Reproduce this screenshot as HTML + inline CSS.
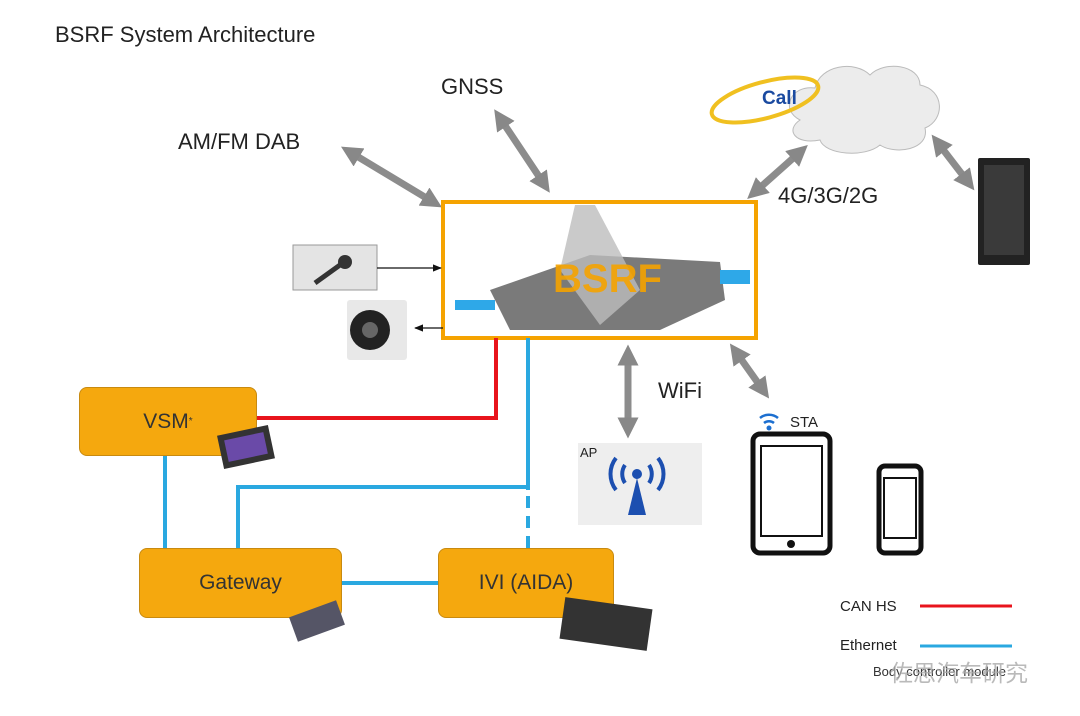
<!DOCTYPE html>
<html><head><meta charset="utf-8"><style>
body{margin:0;width:1080px;height:716px;background:#fff;position:relative;overflow:hidden;font-family:"Liberation Sans","Noto Sans CJK SC",sans-serif;color:#222}
.t{position:absolute;white-space:nowrap}
.box{position:absolute;background:#f5a80e;border:1px solid #c88a10;border-radius:8px;display:flex;align-items:center;justify-content:center;font-size:21px;color:#333}
</style></head><body>
<svg width="1080" height="716" style="position:absolute;left:0;top:0">
<defs>
<marker id="g" viewBox="0 0 10 10" refX="5" refY="5" markerWidth="3" markerHeight="3" orient="auto-start-reverse"><path d="M0,0L10,5L0,10z" fill="#888"/></marker>
<marker id="k" viewBox="0 0 10 10" refX="9" refY="5" markerWidth="7" markerHeight="7" orient="auto"><path d="M0,1L10,5L0,9z" fill="#111"/></marker>
</defs>
<g stroke="#8c8c8c" stroke-width="7" marker-start="url(#g)" marker-end="url(#g)">
<line x1="350" y1="152" x2="433" y2="202"/>
<line x1="500" y1="118" x2="544" y2="184"/>
<line x1="755" y1="192" x2="800" y2="152"/>
<line x1="938" y1="143" x2="968" y2="182"/>
<line x1="628" y1="355" x2="628" y2="428"/>
<line x1="736" y1="352" x2="763" y2="390"/>
</g>
<path d="M800,120 C780,110 790,85 815,88 C820,65 855,60 870,75 C885,60 920,65 920,85 C945,90 945,120 925,128 C930,150 895,155 880,145 C865,158 825,155 820,140 C795,145 785,130 800,120Z" fill="#ececec" stroke="#bbb"/>
<ellipse cx="765" cy="100" rx="55" ry="18" fill="none" stroke="#f0c020" stroke-width="4" transform="rotate(-15 765 100)"/>
<text x="762" y="104" font-family="Liberation Sans" font-weight="bold" font-size="19" fill="#1a4aa0">Call</text>
<rect x="978" y="158" width="52" height="107" fill="#222" rx="2"/>
<rect x="984" y="165" width="40" height="90" fill="#3a3a3a"/>
<rect x="443" y="202" width="313" height="136" fill="#fff" stroke="#f5a300" stroke-width="4"/>
<path d="M490,290 L590,255 L720,262 L725,300 L660,330 L510,330 Z" fill="#7a7a7a"/>
<path d="M560,270 L575,205 L595,205 L640,290 L600,325 Z" fill="#bdbdbd" opacity=".8"/>
<rect x="455" y="300" width="40" height="10" fill="#2ea8e8"/>
<rect x="720" y="270" width="30" height="14" fill="#2ea8e8"/>
<text x="553" y="292" font-family="Liberation Sans" font-weight="bold" font-size="40" fill="#f5a300" opacity=".9">BSRF</text>
<rect x="293" y="245" width="84" height="45" fill="#e4e4e4" stroke="#999"/>
<path d="M315,283 L340,265" stroke="#333" stroke-width="5"/><circle cx="345" cy="262" r="7" fill="#333"/>
<line x1="377" y1="268" x2="441" y2="268" stroke="#111" stroke-width="1.3" marker-end="url(#k)"/>
<rect x="347" y="300" width="60" height="60" fill="#e8e8e8" rx="3"/>
<circle cx="370" cy="330" r="20" fill="#222"/><circle cx="370" cy="330" r="8" fill="#666"/>
<line x1="443" y1="328" x2="415" y2="328" stroke="#111" stroke-width="1.3" marker-end="url(#k)"/>
<polyline points="496,338 496,418 256,418" fill="none" stroke="#e8141c" stroke-width="4"/>
<g stroke="#2aa8e0" stroke-width="4" fill="none">
<polyline points="528,338 528,490"/>
<line x1="528" y1="496" x2="528" y2="548" stroke-dasharray="12,8"/>
<polyline points="528,487 238,487 238,548"/>
<line x1="165" y1="455" x2="165" y2="548"/>
<line x1="341" y1="583" x2="438" y2="583"/>
</g>
<rect x="578" y="443" width="124" height="82" fill="#eeeeee"/>
<circle cx="637" cy="474" r="5" fill="#1c4fb0"/>
<path d="M625,465 A16,16 0 0,0 625,483 M649,465 A16,16 0 0,1 649,483 M616,458 A26,26 0 0,0 616,490 M658,458 A26,26 0 0,1 658,490" stroke="#1c4fb0" stroke-width="4" fill="none"/>
<path d="M637,478 L628,515 L646,515Z" fill="#1c4fb0"/>
<rect x="753" y="434" width="77" height="119" rx="7" fill="#fff" stroke="#111" stroke-width="5"/>
<rect x="761" y="446" width="61" height="90" fill="#fff" stroke="#111" stroke-width="2"/>
<circle cx="791" cy="544" r="4" fill="#111"/>
<rect x="879" y="466" width="42" height="87" rx="6" fill="#fff" stroke="#111" stroke-width="5"/>
<rect x="884" y="478" width="32" height="60" fill="#fff" stroke="#111" stroke-width="2"/>
<path d="M760,418 A14,14 0 0,1 778,418 M764,423 A8,8 0 0,1 774,423" stroke="#1c6fd0" stroke-width="2.5" fill="none"/>
<circle cx="769" cy="428" r="2.5" fill="#1c6fd0"/>
<line x1="920" y1="606" x2="1012" y2="606" stroke="#e8141c" stroke-width="3"/>
<line x1="920" y1="646" x2="1012" y2="646" stroke="#2aa8e0" stroke-width="3"/>
</svg>
<div class="t" style="left:55px;top:22px;font-size:22px">BSRF System Architecture</div>
<div class="t" style="left:441px;top:74px;font-size:22px">GNSS</div>
<div class="t" style="left:178px;top:129px;font-size:22px">AM/FM DAB</div>
<div class="t" style="left:778px;top:183px;font-size:22px">4G/3G/2G</div>
<div class="t" style="left:658px;top:378px;font-size:22px">WiFi</div>
<div class="t" style="left:790px;top:414px;font-size:15px">STA</div>
<div class="t" style="left:580px;top:445px;font-size:13px">AP</div>
<div class="box" style="left:79px;top:387px;width:176px;height:67px">VSM<sup style="font-size:10px">*</sup></div>
<div class="box" style="left:139px;top:548px;width:201px;height:68px">Gateway</div>
<div class="box" style="left:438px;top:548px;width:174px;height:68px">IVI (AIDA)</div>
<svg width="1080" height="716" style="position:absolute;left:0;top:0">
<rect x="220" y="430" width="52" height="34" fill="#333" transform="rotate(-12 246 447)"/>
<rect x="226" y="436" width="40" height="22" fill="#6a4aa8" transform="rotate(-12 246 447)"/>
<rect x="292" y="608" width="50" height="26" fill="#556" transform="rotate(-20 317 621)"/>
<rect x="562" y="603" width="88" height="42" fill="#333" transform="rotate(8 606 624)"/>
</svg>
<div class="t" style="left:840px;top:598px;font-size:15px">CAN HS</div>
<div class="t" style="left:840px;top:637px;font-size:15px">Ethernet</div>
<div class="t" style="left:873px;top:664px;font-size:13px;color:#333">Body controller module</div>
<div class="t" style="left:890px;top:654px;font-size:23px;color:#aaa;opacity:.8">佐思汽车研究</div>
</body></html>
